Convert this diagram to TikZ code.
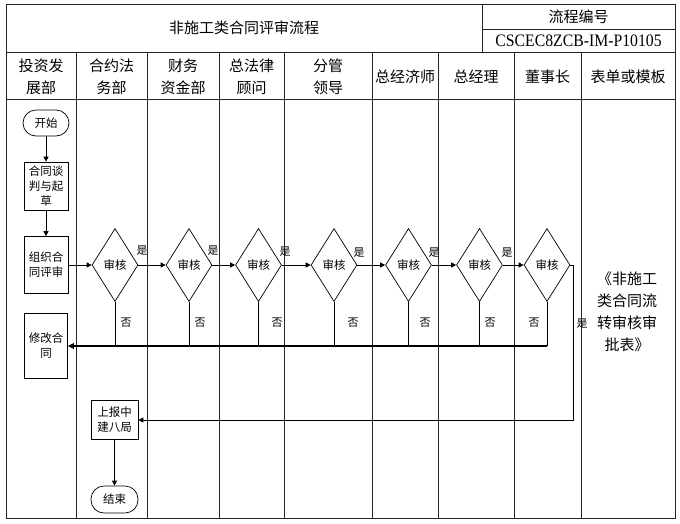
\documentclass[tikz,border=0pt]{standalone}
\usepackage{fontspec}
\setmainfont{Liberation Serif}
\newfontfamily\cjk{Noto Sans CJK SC}
\usetikzlibrary{shapes.geometric,arrows.meta}
\tikzset{
  lane/.style={draw=black!85, line width=0.8pt},
  hdr/.style={font=\cjk\fontsize{15}{22}\selectfont, align=center, inner sep=0pt},
  txt/.style={font=\cjk\fontsize{11.5}{15}\selectfont, align=center, inner sep=0pt},
  proc/.style={txt, draw, line width=0.7pt},
  term/.style={txt, draw, line width=0.7pt, rounded corners=13pt, minimum width=47pt, minimum height=27pt},
  dec/.style={txt, draw, line width=0.7pt, shape=diamond, minimum width=46pt, minimum height=73pt},
  flow/.style={draw, line width=0.8pt, -{Triangle[length=5pt,width=5pt]}},
  plain/.style={draw, line width=0.8pt},
  back/.style={draw, line width=1.6pt, -{Triangle[length=6pt,width=5.5pt]}},
  lbl/.style={font=\cjk\fontsize{11}{13}\selectfont, inner sep=0pt}
}
\begin{document}
\begin{tikzpicture}[x=1pt,y=-1pt]
\useasboundingbox (0,0) rectangle (680,523);
% frame and header
\draw[lane] (6,4) rectangle (675,518);
\draw[lane] (6,52) -- (675,52);
\draw[lane] (6,99) -- (675,99);
\draw[lane] (482,4) -- (482,52);
\draw[lane] (482,29) -- (675,29);
\foreach \x in {76,147,219,284,372,438,514,581}{\draw[lane] (\x,52) -- (\x,518);}
\node[hdr] (title) at (244,28) {非施工类合同评审流程};
\node[hdr] (codet) at (578.5,16.5) {流程编号};
\node[font=\fontsize{17.5}{20}\selectfont, inner sep=0pt] (code) at (578.5,41) {\scalebox{0.9}[1]{CSCEC8ZCB-IM-P10105}};
\node[hdr] (h1) at (41,77) {投资发\\展部};
\node[hdr] (h2) at (111.5,77) {合约法\\务部};
\node[hdr] (h3) at (183,77) {财务\\资金部};
\node[hdr] (h4) at (251.5,77) {总法律\\顾问};
\node[hdr] (h5) at (328,77) {分管\\领导};
\node[hdr] (h6) at (405,77) {总经济师};
\node[hdr] (h7) at (476,77) {总经理};
\node[hdr] (h8) at (547.5,77) {董事长};
\node[hdr] (h9) at (628,77) {表单或模板};
% nodes
\node[term, minimum width=46pt, minimum height=26pt] (start) at (46,123) {开始};
\node[proc, minimum width=44pt, minimum height=48pt] (draft) at (46,186) {合同谈\\判与起\\草};
\node[proc, minimum width=44pt, minimum height=57pt] (org) at (46,265) {组织合\\同评审};
\node[proc, minimum width=43pt, minimum height=65pt] (mod) at (46,346) {修改合\\同};
\node[proc, minimum width=47pt, minimum height=39pt] (report) at (114.5,420) {上报中\\建八局};
\node[term] (end) at (114.5,499.5) {结束};
\node[dec] (d1) at (115,265) {审核};
\node[dec] (d2) at (189,265) {审核};
\node[dec] (d3) at (258.5,265) {审核};
\node[dec] (d4) at (334,265) {审核};
\node[dec] (d5) at (408.5,265) {审核};
\node[dec] (d6) at (479.5,265) {审核};
\node[dec] (d7) at (547,265) {审核};
\node[hdr] (form) at (627,312) {《非施工\\类合同流\\转审核审\\批表》};
% connectors
\draw[flow] (start) -- (draft);
\draw[flow] (draft) -- (org);
\draw[flow] (org.east) -- (d1.west);
\draw[flow] (d1.east) -- (d2.west);
\draw[flow] (d2.east) -- (d3.west);
\draw[flow] (d3.east) -- (d4.west);
\draw[flow] (d4.east) -- (d5.west);
\draw[flow] (d5.east) -- (d6.west);
\draw[flow] (d6.east) -- (d7.west);
\foreach \d in {d1,d2,d3,d4,d5,d6}{\draw[plain] (\d.south) -- (\d.south |- mod.east);}
\draw[plain] (d7.south) -- (d7.south |- mod.east);
\draw[back] (d7.south |- mod.east) -- (mod.east);
\coordinate (turn) at (573,265);
\draw[flow] (d7.east) -- (turn) |- (report.east);
\draw[flow] (report) -- (end);
% labels
\node[lbl] (y1) at (142,251) {是};
\node[lbl] (y2) at (213,251) {是};
\node[lbl] (y3) at (285,252) {是};
\node[lbl] (y4) at (359,253) {是};
\node[lbl] (y5) at (434,253) {是};
\node[lbl] (y6) at (507,253) {是};
\node[lbl] (y7) at (582,324) {是};
\node[lbl] (n1) at (126,323) {否};
\node[lbl] (n2) at (200,323) {否};
\node[lbl] (n3) at (277,323) {否};
\node[lbl] (n4) at (353,323) {否};
\node[lbl] (n5) at (425,323) {否};
\node[lbl] (n6) at (490,323) {否};
\node[lbl] (n7) at (534,323) {否};
\end{tikzpicture}
\end{document}
